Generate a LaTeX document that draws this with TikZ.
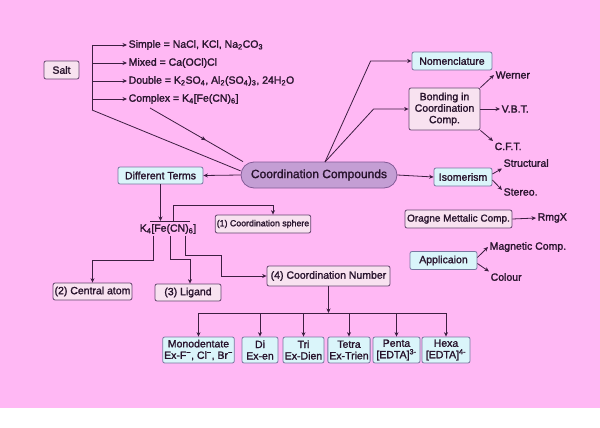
\documentclass[tikz,border=0pt]{standalone}
\usepackage{fontspec}
\setmainfont{Liberation Sans}[RawFeature={embolden=1.6}]
\usetikzlibrary{arrows.meta, positioning, calc}
\definecolor{bgpink}{RGB}{255,184,244}
\definecolor{boxpink}{RGB}{248,226,240}
\definecolor{boxcyan}{RGB}{218,245,250}
\definecolor{edgecol}{RGB}{100,70,110}
\definecolor{cyanedge}{RGB}{120,120,160}
\definecolor{linecol}{RGB}{60,30,65}
\definecolor{txtcol}{RGB}{40,20,45}
\definecolor{ccfill}{RGB}{196,158,212}
\definecolor{ccedge}{RGB}{130,90,150}

\begin{document}
\begin{tikzpicture}[x=1pt, y=-1pt, text=txtcol,
    conn/.style={draw=linecol, line width=0.8pt},
    arr/.style={conn, -{Stealth[length=4.5pt, width=4pt]}},
    txt/.style={inner sep=1.5pt, anchor=west, font=\fontsize{10.5}{12}\selectfont},
    pinkbox/.style={draw=edgecol, fill=boxpink, line width=0.8pt, rounded corners=2pt,
        inner sep=1.5pt, align=center, font=\fontsize{10.5}{11.5}\selectfont},
    cyanbox/.style={pinkbox, fill=boxcyan, draw=cyanedge}]

    % Background
    \useasboundingbox (0,0) rectangle (600,428);
    \fill[bgpink] (0,0) rectangle (600,408);
    \fill[white] (0,408) rectangle (600,428);

    % Centre
    \node[draw=ccedge, fill=ccfill, line width=0.8pt, rounded corners=13pt, minimum width=156,
        minimum height=26, font=\fontsize{12}{14}\selectfont] (cc) at (319,175) {Coordination Compounds};

    % Salt
    \node[pinkbox, minimum width=35, minimum height=18] (salt) at (61.5,70) {Salt};
    \coordinate (brtop) at (92,45);
    \coordinate (brbot) at (92,110);
    \node[txt] (simple) at (127,45) {Simple = NaCl, KCl, Na\textsubscript{2}CO\textsubscript{3}};
    \node[txt] (mixed) at (127,63) {Mixed = Ca(OCl)Cl};
    \node[txt] (double) at (127,81) {Double = K\textsubscript{2}SO\textsubscript{4}, Al\textsubscript{2}(SO\textsubscript{4})\textsubscript{3}, 24H\textsubscript{2}O};
    \node[txt] (complex) at (127,99) {Complex = K\textsubscript{4}[Fe(CN)\textsubscript{6}]};
    \draw[conn] (brtop) -- (brbot);
    \foreach \t in {simple, mixed, double, complex}
        \draw[arr] (\t.west -| brtop) -- (\t.west);
    \draw[conn] (brbot) -- (cc.177);
    \coordinate (cxfoot) at (150,108);
    \draw[arr] (cxfoot) -- ($(cxfoot)!0.6!(cc.170)$);
    \draw[conn] ($(cxfoot)!0.55!(cc.170)$) -- (cc.170);

    % Nomenclature and bonding
    \coordinate (ccjoin) at (325,162);
    \node[cyanbox, minimum width=80, minimum height=18] (nom) at (452,61) {Nomenclature};
    \node[pinkbox, minimum width=71, minimum height=42] (bond) at (444.5,109) {Bonding in\\Coordination\\Comp.};
    \draw[arr] (ccjoin) -- ([xshift=-41pt]nom.west) -- (nom.west);
    \draw[arr] (ccjoin) -- ([xshift=-35pt]bond.west) -- (bond.west);
    \node[txt] (werner) at (494,75) {Werner};
    \node[txt] (vbt) at (500,109) {V.B.T.};
    \node[txt, anchor=north west] (cft) at (493,141) {C.F.T.};
    \draw[arr] (bond.north east) -- (werner.west);
    \draw[arr] (bond.east) -- (vbt.west);
    \draw[arr] (bond.south east) -- (cft.north west);

    % Isomerism
    \node[cyanbox, minimum width=58, minimum height=18] (iso) at (463,177) {Isomerism};
    \draw[arr] (cc.east) -- (iso.west);
    \node[txt] (struct) at (502,163) {Structural};
    \node[txt] (stereo) at (502,192) {Stereo.};
    \draw[arr] ([yshift=3pt]iso.east) -- (struct.south west);
    \draw[arr] ([yshift=-3pt]iso.east) -- ([yshift=2pt]stereo.west);

    % Organometallic
    \node[pinkbox, minimum width=107, minimum height=18, font=\fontsize{10}{11}\selectfont] (organo) at (458.5,219) {Oragne Mettalic Comp.};
    \node[txt] (rmgx) at (536,218) {RmgX};
    \draw[arr] (organo.east) -- (rmgx.west);

    % Application
    \node[cyanbox, minimum width=67, minimum height=18] (app) at (443.5,260.5) {Applicaion};
    \node[txt] (magn) at (488,247) {Magnetic Comp.};
    \node[txt] (colour) at (489,277) {Colour};
    \draw[arr] ([yshift=3pt]app.east) -- (magn.west);
    \draw[arr] ([yshift=-3pt]app.east) -- (colour.north west);

    % Different terms
    \node[cyanbox, minimum width=85, minimum height=17] (dt) at (160.5,175.5) {Different Terms};
    \draw[arr] (cc.west) -- (dt.east);
    \node[inner sep=1.5pt, font=\fontsize{10.5}{12}\selectfont] (k4) at (168,229) {K\textsubscript{4}[Fe(CN)\textsubscript{6}]};
    \coordinate (barL) at (150,221);
    \coordinate (barR) at (190,221);
    \draw[conn] (barL) -- (barR);
    \draw[arr] (dt.south) -- (dt.south |- barL);
    \node[pinkbox, minimum width=90, minimum height=18, font=\fontsize{8.8}{10}\selectfont] (sphere) at (263,224) {(1) Coordination sphere};
    \coordinate (sphfoot) at (173,221);
    \draw[arr] (sphfoot) |- ([xshift=10pt, yshift=9pt]sphere.north) -- ([xshift=10pt]sphere.north);

    \node[pinkbox, minimum width=77, minimum height=17] (central) at (92.5,291.5) {(2) Central atom};
    \node[pinkbox, minimum width=66, minimum height=17] (ligand) at (188,292.5) {(3) Ligand};
    \node[pinkbox, minimum width=123, minimum height=20] (cn) at (328.5,276) {(4) Coordination Number};
    \draw[arr] ([xshift=-15pt]k4.south) |- ([yshift=22pt]central.north) -- (central.north);
    \draw[arr] ([xshift=2pt]k4.south) |- ([xshift=2pt, yshift=24pt]ligand.north) -- ([xshift=2pt]ligand.north);
    \coordinate (cnknee) at (221,255);
    \draw[arr] ([xshift=17pt]k4.south) |- (cnknee) |- (cn.west);

    % Denticity
    \coordinate (rail) at (328.5,313);
    \draw[arr] (cn.south) -- (rail);
    \node[cyanbox, minimum width=71, minimum height=26] (mono) at (198.5,350) {Monodentate\\Ex-F\textsuperscript{−}, Cl\textsuperscript{−}, Br\textsuperscript{−}};
    \node[cyanbox, minimum width=36, minimum height=26] (di) at (260,350) {Di\\Ex-en};
    \node[cyanbox, minimum width=41, minimum height=26] (tri) at (303.5,350) {Tri\\Ex-Dien};
    \node[cyanbox, minimum width=42, minimum height=26] (tetra) at (349,350) {Tetra\\Ex-Trien};
    \node[cyanbox, minimum width=47, minimum height=26] (penta) at (396.5,350) {Penta\\{}[EDTA]\textsuperscript{3-}};
    \node[cyanbox, minimum width=48, minimum height=26] (hexa) at (446,350) {Hexa\\{}[EDTA]\textsuperscript{4-}};
    \draw[conn] (mono.north |- rail) -- (hexa.north |- rail);
    \foreach \b in {mono, di, tri, tetra, penta, hexa}
        \draw[arr] (\b.north |- rail) -- (\b.north);
\end{tikzpicture}
\end{document}
